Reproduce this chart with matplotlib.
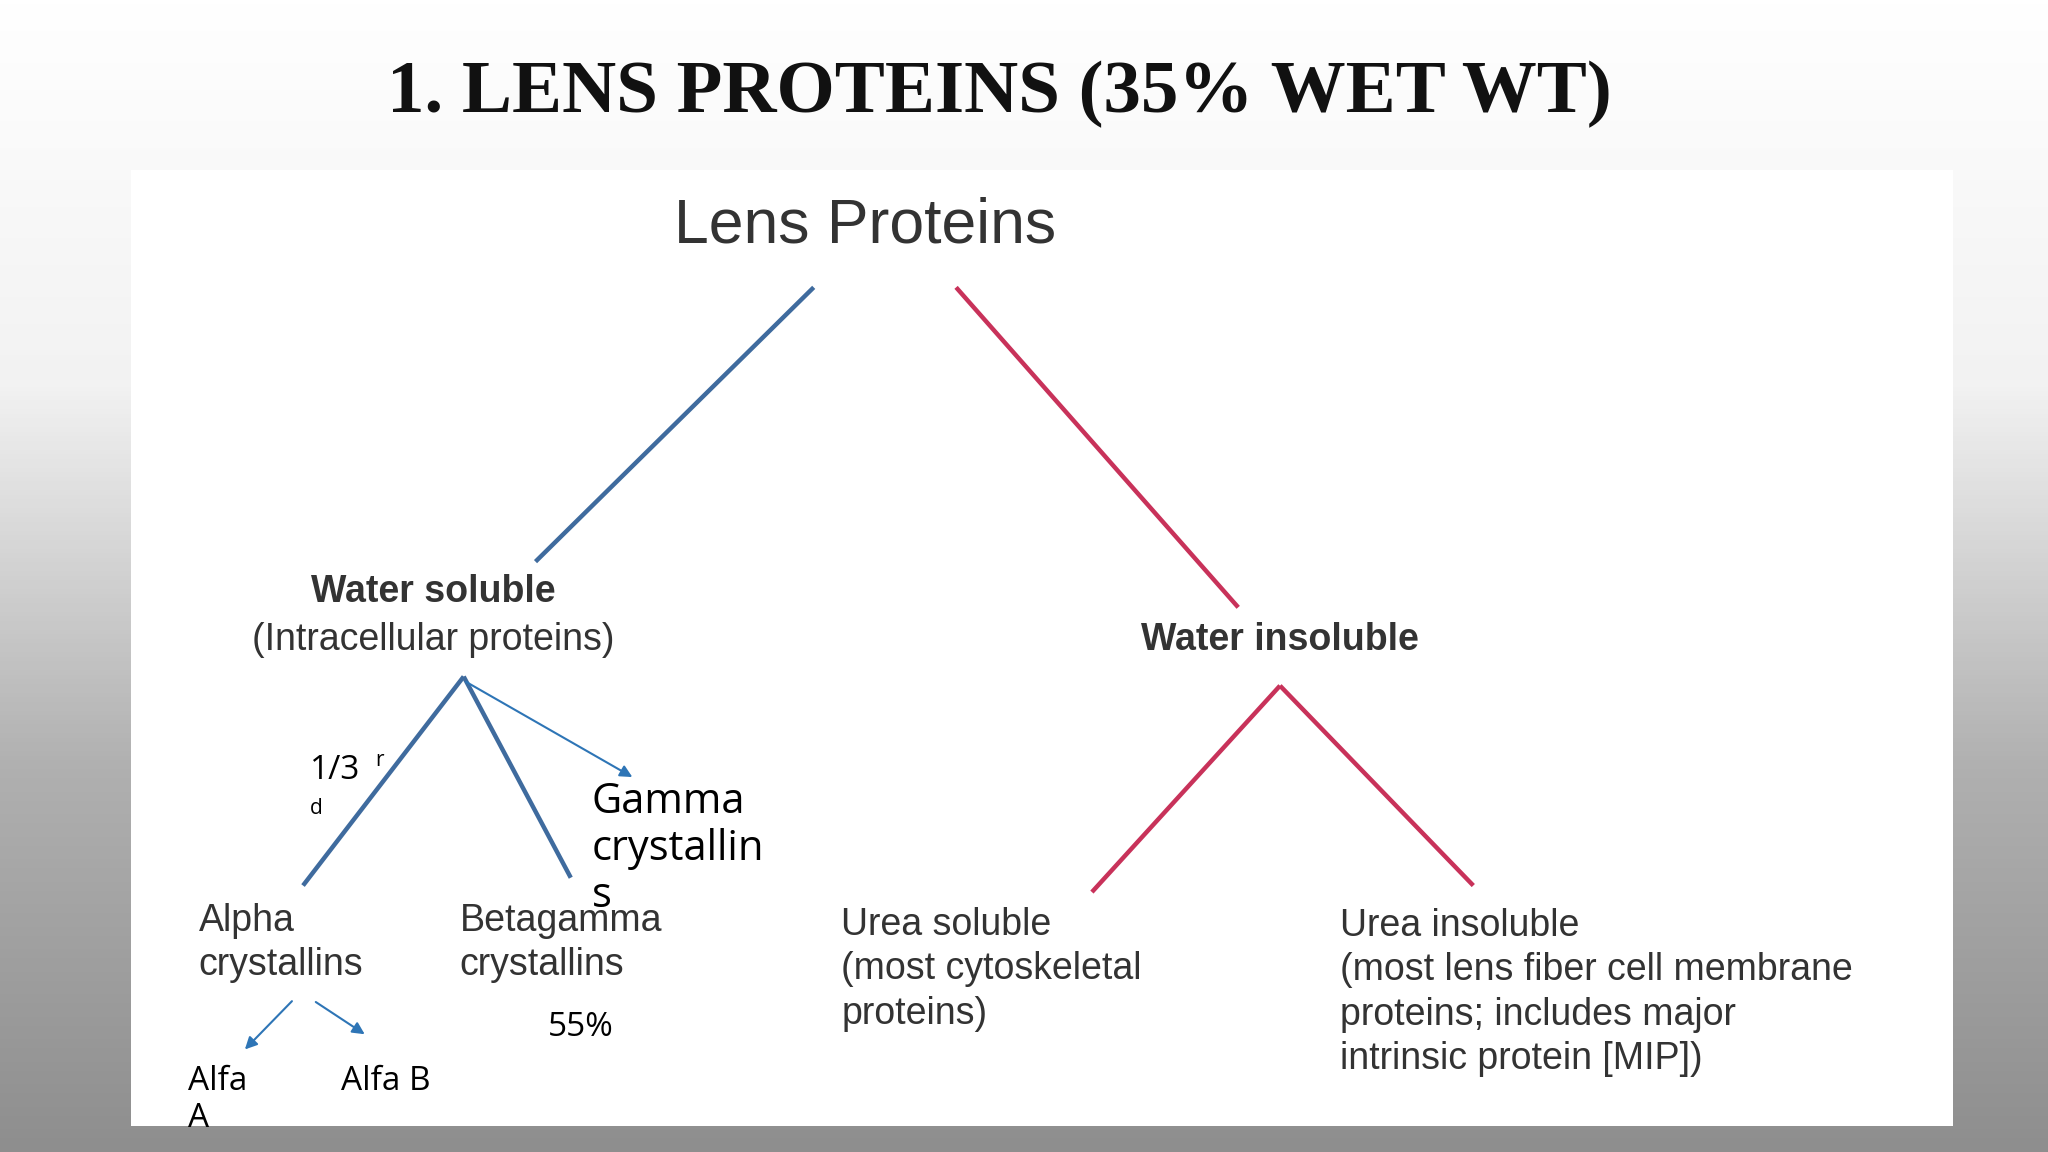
import numpy as np
from matplotlib import pyplot as plt
from matplotlib.colors import LinearSegmentedColormap

# canvas units follow a 1568 x 882 layout, y pointing down
W, H = 1568, 882

title = "1. LENS PROTEINS (35% WET WT)"

# tree branches: (x0, y0, x1, y1, colour)
branches = [
    (623, 220, 410, 430, "#3f6b9e"),
    (355, 518, 232, 678, "#3f6b9e"),
    (355, 518, 437, 672, "#3f6b9e"),
    (732, 220, 948, 465, "#c8325a"),
    (980, 525, 836, 683, "#c8325a"),
    (980, 525, 1128, 678, "#c8325a"),
]

# annotation arrows added on top of the figure
arrows = [
    (355, 521, 486, 596),
    (225, 765, 186, 805),
    (240, 766, 281, 793),
]

# node labels: (x, y, text, size, weight, ha)
nodes = [
    (662, 173, "Lens Proteins", 45, "normal", "center"),
    (332, 453, "Water soluble", 27, "bold", "center"),
    (332, 490, "(Intracellular proteins)", 27, "normal", "center"),
    (980, 490, "Water insoluble", 27, "bold", "center"),
    (152, 722, "Alpha\ncrystallins", 27, "normal", "left"),
    (352, 722, "Betagamma\ncrystallins", 27, "normal", "left"),
    (644, 742, "Urea soluble\n(most cytoskeletal\nproteins)", 27, "normal", "left"),
    (1026, 760, "Urea insoluble\n(most lens fiber cell membrane\nproteins; includes major\nintrinsic protein [MIP])", 27, "normal", "left"),
]

# hand-added notes
notes = [
    (453, 650, "Gamma\ncrystallin\ns", 30, "left"),
    (445, 787, "55%", 24, "center"),
    (144, 842, "Alfa\nA", 24, "left"),
    (261, 828, "Alfa B", 24, "left"),
    (237, 590, "1/3", 24, "left"),
]

fig = plt.figure(figsize=(20.48, 11.52), dpi=100)
ax = fig.add_axes([0, 0, 1, 1])
ax.set_xlim(0, W)
ax.set_ylim(H, 0)
ax.axis("off")

# grey gradient background
grad = np.linspace(0, 1, 256).reshape(-1, 1)
cmap = LinearSegmentedColormap.from_list("bg", ["#ffffff", "#f2f2f2", "#b0b0b0", "#8e8e8e"])
ax.imshow(grad, cmap=cmap, extent=(0, W, H, 0), aspect="auto", zorder=0)
ax.add_patch(plt.Rectangle((100, 130), 1395, 732, facecolor="white", edgecolor="none", zorder=1))

ax.text(765, 72, title, ha="center", va="center", fontsize=54, fontweight="bold",
        family="Liberation Serif", color="#111111", zorder=3)

for x0, y0, x1, y1, c in branches:
    ax.plot([x0, x1], [y0, y1], color=c, lw=3.2, solid_capstyle="butt", zorder=2)

for x0, y0, x1, y1 in arrows:
    ax.annotate("", xy=(x1, y1), xytext=(x0, y0),
                arrowprops=dict(arrowstyle="-|>", color="#2e75b6", lw=1.5, mutation_scale=18), zorder=3)

for x, y, t, s, w, ha in nodes:
    ax.text(x, y, t, ha=ha, va="center", fontsize=s, fontweight=w, family="Liberation Sans",
            color="#333333", linespacing=1.3, zorder=3)

for x, y, t, s, ha in notes:
    ax.text(x, y, t, ha=ha, va="center", fontsize=s, family="Open Sans",
            color="black", linespacing=1.15, zorder=4)
ax.text(287, 582, "r", fontsize=15, family="Open Sans", va="center", zorder=4)
ax.text(237, 619, "d", fontsize=15, family="Open Sans", va="center", zorder=4)

fig.savefig("out.png")
